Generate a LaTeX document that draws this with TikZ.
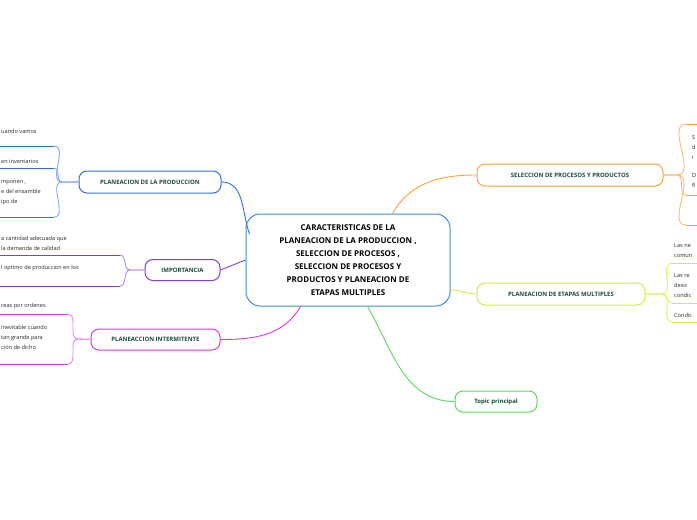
\documentclass[tikz,border=0pt]{standalone}
\usepackage{fontspec}
\setmainfont{Open Sans}
\usetikzlibrary{positioning, calc}
\definecolor{cblue}{HTML}{2F6FE6}
\definecolor{cmain}{HTML}{3C8FD6}
\definecolor{cpurple}{HTML}{7B3FE4}
\definecolor{cmag}{HTML}{E034E0}
\definecolor{corange}{HTML}{F7A333}
\definecolor{cyel}{HTML}{D2EE3A}
\definecolor{cgreen}{HTML}{55DD55}
\definecolor{ctxt}{HTML}{1B4A3C}
\tikzset{
  topic/.style={draw, rounded corners=8pt, line width=1pt, fill=white, font=\bfseries\fontsize{6}{7}\selectfont, text=ctxt, inner sep=0pt},
  central/.style={draw=cmain, rounded corners=14pt, line width=1pt, fill=white, align=center, font=\bfseries\fontsize{8}{13}\selectfont, text=black},
  leaf/.style={anchor=south west, align=left, font=\fontsize{5.6}{10}\selectfont, text=black!85, inner sep=1pt},
  link/.style={line width=0.9pt}
}
\begin{document}
\begin{tikzpicture}[x=1pt, y=-1pt]
\useasboundingbox (0,0) rectangle (697,520);
% central topic
\node[central, minimum width=204pt, minimum height=92pt] (C) at (348,260)
  {CARACTERISTICAS DE LA\\PLANEACION DE LA PRODUCCION ,\\SELECCION DE PROCESOS ,\\SELECCION DE PROCESOS Y\\PRODUCTOS Y PLANEACION DE\\ETAPAS MULTIPLES};
% main topics
\node[topic, draw=cblue, minimum width=142pt, minimum height=22pt] (PP) at (150,182) {PLANEACION DE LA PRODUCCION};
\node[topic, draw=cpurple, minimum width=75pt, minimum height=21pt] (IM) at (182.5,270) {IMPORTANCIA};
\node[topic, draw=cmag, minimum width=129pt, minimum height=21pt] (PI) at (155.5,339.5) {PLANEACCION INTERMITENTE};
\node[topic, draw=corange, minimum width=186pt, minimum height=22pt] (SP) at (570,175) {SELECCION DE PROCESOS Y PRODUCTOS};
\node[topic, draw=cyel, minimum width=168pt, minimum height=22pt] (EM) at (561,294) {PLANEACION DE ETAPAS MULTIPLES};
\node[topic, draw=cgreen, minimum width=82pt, minimum height=21pt] (TP) at (496,401.5) {Topic principal};
% connectors from the centre
\draw[link, cblue] (PP.east) to[out=0, in=110] ($(C.west)+(4,-26)$);
\draw[link, cpurple] (C.west) -- (IM.east);
\draw[link, cmag] ($(C.south west)+(55,0)$) to[out=-120, in=0] (PI.east);
\draw[link, corange] ($(C.north east)+(-58,0)$) to[out=60, in=180] (SP.west);
\draw[link, cyel] ($(C.east)+(0,30)$) to[out=0, in=180] (EM.west);
\draw[link, cgreen] ($(C.south west)+(122,0)$) to[out=-60, in=180] (TP.west);
% blue leaves
\coordinate (jb) at (62,182);
\foreach \y/\n in {146/b1, 168/b2, 217/b3} {
  \coordinate (\n) at (54,\y);
  \draw[link, cblue!60] (PP.west) -- (jb) to[out=180, in=0] (\n);
  \draw[link, cblue] (\n) -- (0,\y);
}
\node[leaf] at (0,135) {uando vamos};
\node[leaf] at (0,165) {en inventarios};
\node[leaf] at (0,206) {mponen ,\\e del ensamble\\ipo de};
% purple leaves
\coordinate (jp) at (130,270);
\foreach \y/\n in {255/p1, 286/p2} {
  \coordinate (\n) at (120,\y);
  \draw[link, cpurple!60] (IM.west) -- (jp) to[out=180, in=0] (\n);
  \draw[link, cpurple] (\n) -- (0,\y);
}
\node[leaf] at (0,252) {a cantidad adecuada que\\la demanda de calidad};
\node[leaf] at (0,272) {l optimo  de produccion en los};
% magenta leaves
\coordinate (jm) at (78,339);
\foreach \y/\n in {314/m1, 364/m2} {
  \coordinate (\n) at (68,\y);
  \draw[link, cmag!60] (PI.west) -- (jm) to[out=180, in=0] (\n);
  \draw[link, cmag] (\n) -- (0,\y);
}
\node[leaf] at (0,310) {reas por ordenes};
\node[leaf] at (0,351) {inevitable cuando\\tan grande para\\ción de dicho};
% orange leaves
\coordinate (jo) at (677,175);
\foreach \y/\n in {124/o1, 195/o2, 225/o3} {
  \coordinate (\n) at (686,\y);
  \draw[link, corange!70] (SP.east) -- (jo) to[out=0, in=180] (\n);
  \draw[link, corange] (\n) -- (697,\y);
}
\node[leaf] at (691,161) {S\\d\\i};
\node[leaf] at (691,189) {D\\fl};
% yellow leaves
\coordinate (jy) at (662,294);
\foreach \y/\n in {263/y1, 303/y2, 322/y3} {
  \coordinate (\n) at (672,\y);
  \draw[link, cyel!80] (EM.east) -- (jy) to[out=0, in=180] (\n);
  \draw[link, cyel] (\n) -- (697,\y);
}
\node[leaf] at (673,259) {Las ne\\comun};
\node[leaf] at (673,299) {Las re\\desic\\condic};
\node[leaf] at (673,319) {Condic};
\end{tikzpicture}
\end{document}
